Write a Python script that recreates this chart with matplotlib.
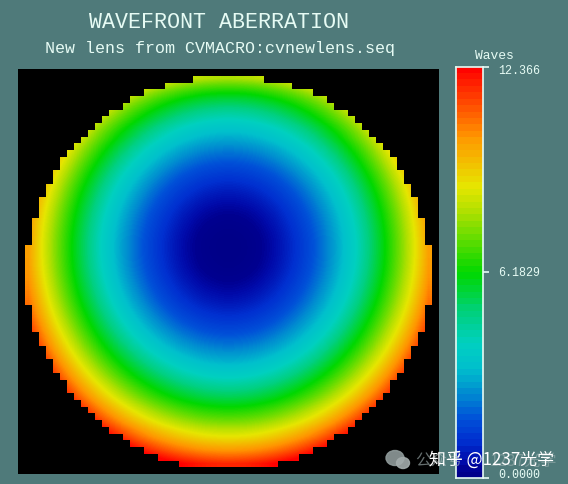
import matplotlib
matplotlib.use('Agg')
import matplotlib.pyplot as plt
import numpy as np
from matplotlib.colors import LinearSegmentedColormap, ListedColormap
from matplotlib.patches import Ellipse

W, H = 568, 485
BG = '#4f7a7a'
FG = '#e6fbf4'
MONO = 'Liberation Mono'

# waves read down the column through the blue centre (58 rows, top to bottom)
row_waves = [8.00, 7.10, 6.30, 5.65, 5.10, 4.60, 4.15, 3.70, 3.30, 2.95,
             2.58, 2.25, 1.95, 1.66, 1.39, 1.15, 0.93, 0.74, 0.57, 0.42,
             0.29, 0.19, 0.11, 0.05, 0.01, 0.00, 0.01, 0.04, 0.09, 0.17,
             0.27, 0.39, 0.53, 0.69, 0.88, 1.09, 1.32, 1.57, 1.85, 2.14,
             2.46, 2.81, 3.17, 3.56, 3.96, 4.40, 4.85, 5.32, 5.85, 6.40,
             6.95, 7.55, 8.20, 8.80, 9.50, 10.20, 11.00, 11.80]
# waves read outward along the row through the blue centre (29 cells, one side)
col_waves = [0.00, 0.03, 0.08, 0.15, 0.25, 0.38, 0.52, 0.70, 0.90, 1.12,
             1.37, 1.64, 1.94, 2.26, 2.61, 2.98, 3.38, 3.80, 4.24, 4.72,
             5.21, 5.73, 6.28, 6.85, 7.44, 8.06, 8.71, 9.38, 10.07]
# staircase edge of the pupil: cells each side of the axis, per row
half_widths = [5, 9, 12, 14, 15, 17, 18, 19, 20, 21, 22, 23, 24, 24, 25,
               25, 26, 26, 27, 27, 27, 28, 28, 28, 28, 29, 29, 29, 29, 29,
               29, 29, 29, 29, 28, 28, 28, 28, 27, 27, 26, 26, 25, 25, 24,
               23, 23, 22, 21, 20, 19, 18, 17, 15, 14, 12, 10, 7]

wave_max = 12.366
tick_values = [0.0, 6.1829, 12.366]
tick_labels = ['0.0000', '6.1829', '12.366']

cmap_pos = [0.0, 0.02, 0.04, 0.09, 0.145, 0.21, 0.27, 0.33, 0.40, 0.50, 0.65, 0.71, 0.83, 0.93, 1.0]
cmap_col = ['#000088', '#000090', '#000aaa', '#0030d0', '#0050d8', '#0090d0', '#00c0cc', '#00d0c0',
            '#00d080', '#00d800', '#b0e000', '#e6e600', '#ff9600', '#ff3c00', '#ff0000']
cmap = LinearSegmentedColormap.from_list('wave', list(zip(cmap_pos, cmap_col)), N=256)


def px_axes(x0, y0, x1, y1):
    return fig.add_axes([x0 / W, 1 - y1 / H, (x1 - x0) / W, (y1 - y0) / H])


def px_text(x, y, s, **kw):
    fig.text(x / W, 1 - y / H, s, **kw)


fig = plt.figure(figsize=(W / 100, H / 100), dpi=100, facecolor=BG)

px_text(219, 23, 'WAVEFRONT ABERRATION', family=MONO, fontsize=15.6, color=FG, ha='center', va='center')
px_text(220, 49, 'New lens from CVMACRO:cvnewlens.seq', family=MONO, fontsize=12, color=FG, ha='center', va='center')

# wavefront map, smooth inside, black staircase laid over it
rows = np.array(row_waves)
cols = np.array(col_waves)
full_cols = np.concatenate([cols[::-1], cols])
grid = rows[:, None] + full_cols[None, :]
outside = np.ones((60, 60))
for j, hw in enumerate(half_widths):
    outside[j + 1, 30 - hw:30 + hw] = np.nan

ax = px_axes(18, 70, 439, 475)
ax.set_facecolor('black')
ax.imshow(grid, cmap=cmap, vmin=0, vmax=wave_max, extent=(0, 58, 58, 0), aspect='auto',
          interpolation='bilinear', interpolation_stage='data')
ax.pcolormesh(np.arange(-1, 60), np.arange(-1, 60), outside, cmap=ListedColormap(['black']), shading='flat')
ax.set_xlim(-1, 59)
ax.set_ylim(59, -1)
ax.set_xticks([])
ax.set_yticks([])
for s in ax.spines.values():
    s.set_visible(False)

# colour bar
cax = px_axes(456, 67.5, 483, 479)
levels = np.linspace(0, wave_max, 65)
cax.pcolormesh([0, 1], levels, ((levels[:-1] + levels[1:]) / 2)[:, None], cmap=cmap, vmin=0, vmax=wave_max)
cax.set_xlim(0, 1)
cax.set_ylim(0, wave_max)
cax.set_xticks([])
cax.yaxis.tick_right()
cax.set_yticks(tick_values)
cax.set_yticklabels([])
cax.tick_params(axis='y', length=4.3, width=1.2, color=FG)
for s in cax.spines.values():
    s.set_color(FG)
    s.set_linewidth(1.2)
for y, lab in zip([475, 273.5, 71], tick_labels):
    px_text(498, y, lab, family=MONO, fontsize=8.4, color=FG, ha='left', va='center')
px_text(494, 56, 'Waves', family=MONO, fontsize=9.4, color=FG, ha='center', va='center')

# watermark
over = fig.add_axes([0, 0, 1, 1], facecolor='none')
over.set_xlim(0, W)
over.set_ylim(H, 0)
over.set_axis_off()
over.add_patch(Ellipse((395, 459), 18, 15, color='#8f9a9a', alpha=0.9))
over.add_patch(Ellipse((403, 464), 13, 11, color='#a3acac', alpha=0.9))
cjk = ['Noto Sans CJK SC', 'DejaVu Sans']
px_text(415, 461, '公众号', family=cjk, fontsize=11.5, color='#a8b8b8', alpha=0.6, ha='left', va='center')
px_text(490, 461, '1237光学', family=cjk, fontsize=11.5, color='#a8b8b8', alpha=0.5, ha='left', va='center')
px_text(429, 460, '知乎 @1237光学', family=cjk, fontsize=12.2, color='white', ha='left', va='center')

fig.savefig('out.png', dpi=100, facecolor=BG)
